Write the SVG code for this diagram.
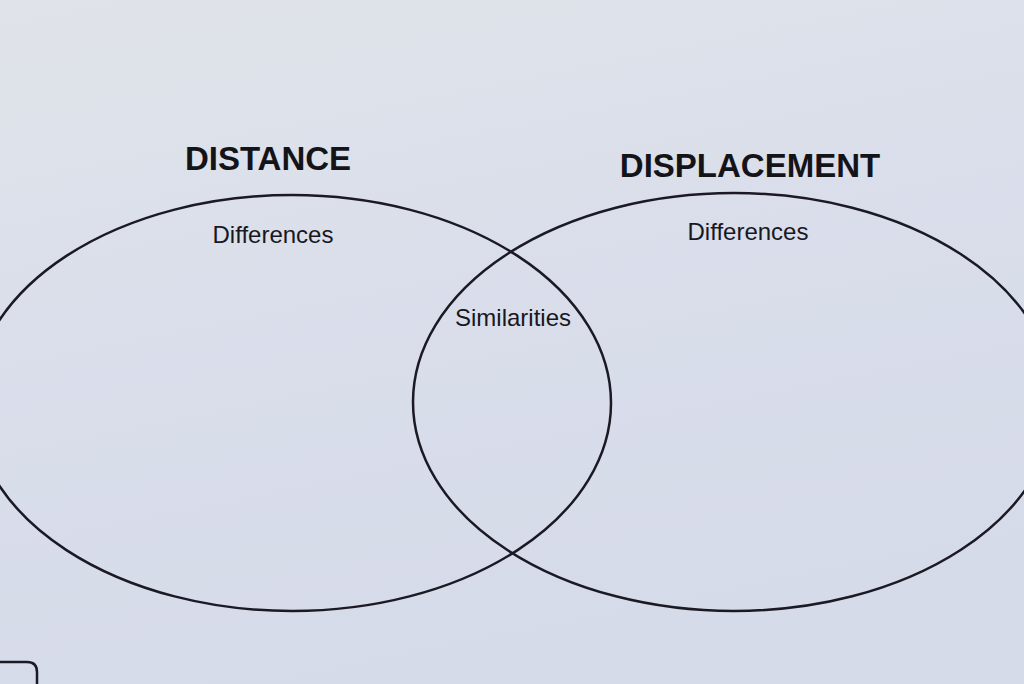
<svg xmlns="http://www.w3.org/2000/svg" width="1024" height="684" viewBox="0 0 1024 684">
  <defs>
    <linearGradient id="bg" x1="0" y1="0" x2="0.3" y2="1">
      <stop offset="0" stop-color="#e0e4e9"/>
      <stop offset="0.5" stop-color="#dadeeb"/>
      <stop offset="1" stop-color="#d6dbe9"/>
    </linearGradient>
  </defs>
  <style>
    .ring { fill: none; stroke: #1b1a24; stroke-width: 2.5; }
    .title { font-family: "Liberation Sans", Arial, sans-serif; font-weight: bold; fill: #141418; text-anchor: middle; }
    .label { font-family: "Liberation Sans", Arial, sans-serif; fill: #18181e; text-anchor: middle; font-size: 24px; }
  </style>
  <rect width="1024" height="684" fill="url(#bg)"/>
  <g id="distance">
    <ellipse class="ring" cx="292" cy="403" rx="319" ry="208"/>
    <text class="title" x="268" y="170" font-size="33">DISTANCE</text>
    <text class="label" x="273" y="243">Differences</text>
  </g>
  <g id="displacement">
    <ellipse class="ring" cx="734" cy="402" rx="321" ry="209"/>
    <text class="title" x="750" y="177" font-size="33">DISPLACEMENT</text>
    <text class="label" x="748" y="240">Differences</text>
  </g>
  <g id="similarities">
    <text class="label" x="513" y="326">Similarities</text>
  </g>
  <g id="corner-box">
    <path class="ring" d="M0 662 H27 Q37 662 37 672 V684" stroke-width="3"/>
  </g>
</svg>
